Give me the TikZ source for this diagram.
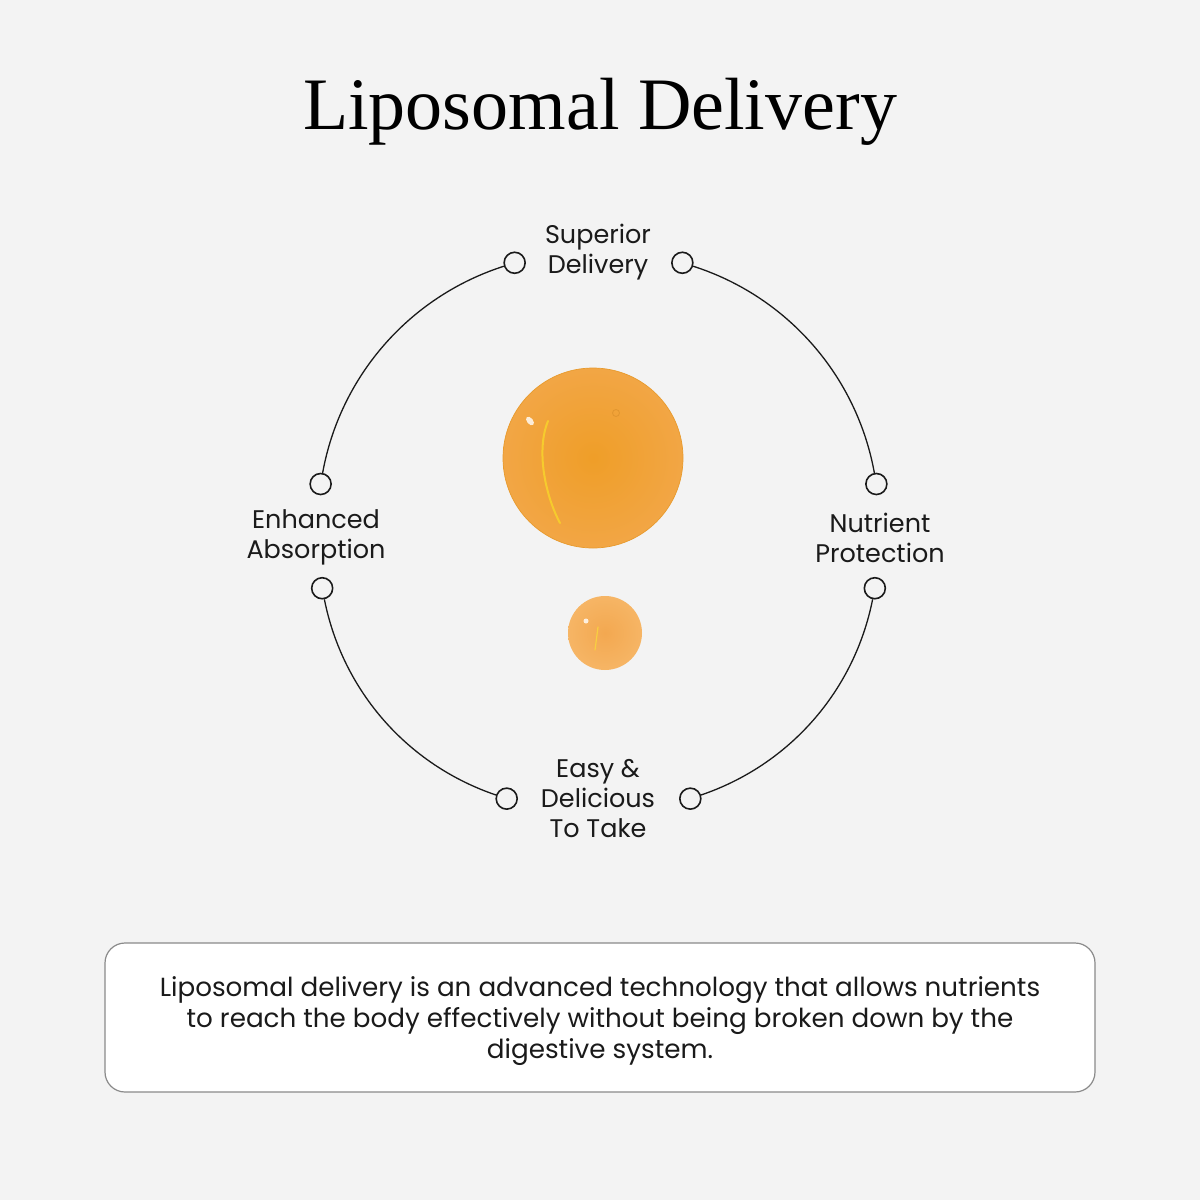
\documentclass[tikz,border=0pt]{standalone}
\usepackage{fontspec}
\setmainfont{Poppins}
\newfontfamily\titlefont{Liberation Serif}
\begin{document}
\begin{tikzpicture}[x=1pt,y=-1pt]
\definecolor{bg}{HTML}{F3F3F3}
\definecolor{ink}{HTML}{1A1A1A}
\definecolor{orangeA}{HTML}{EF9E28}
\definecolor{orangeB}{HTML}{F2A645}
\definecolor{orangeC}{HTML}{F6B565}
\definecolor{orangeD}{HTML}{F3A850}
\definecolor{boxline}{HTML}{8A8A8A}
\tikzset{
  dot/.style={circle,draw=ink,line width=1.6pt,fill=bg,minimum size=21pt,inner sep=0pt},
  arcline/.style={draw=ink,line width=1.3pt},
  lbl/.style={font=\fontsize{25.5}{30}\selectfont,align=center,text=ink},
  body/.style={font=\fontsize{26.2}{31}\selectfont,align=center,text=ink}
}
\useasboundingbox (0,0) rectangle (1200,1200);
\fill[bg] (0,0) rectangle (1200,1200);
% title
\node[text=black,font=\titlefont\fontsize{74}{80}\selectfont] (title) at (600,112) {Liposomal Delivery};
% ring points
\def\cx{598.5}\def\cy{532}\def\rr{282}
\node[dot] (tl) at ({\cx+\rr*cos(107.3)},{\cy-\rr*sin(107.3)}) {};
\node[dot] (tr) at ({\cx+\rr*cos(72.7)},{\cy-\rr*sin(72.7)}) {};
\node[dot] (lu) at ({\cx+\rr*cos(170.2)},{\cy-\rr*sin(170.2)}) {};
\node[dot] (ru) at ({\cx+\rr*cos(9.8)},{\cy-\rr*sin(9.8)}) {};
\node[dot] (ld) at ({\cx+\rr*cos(191.5)},{\cy-\rr*sin(191.5)}) {};
\node[dot] (rd) at ({\cx+\rr*cos(348.5)},{\cy-\rr*sin(348.5)}) {};
\node[dot] (bl) at ({\cx+\rr*cos(251)},{\cy-\rr*sin(251)}) {};
\node[dot] (br) at ({\cx+\rr*cos(289)},{\cy-\rr*sin(289)}) {};
\draw[arcline] (tl) to[bend right=31,looseness=0.92] (lu);
\draw[arcline] (tr) to[bend left=31,looseness=0.92] (ru);
\draw[arcline] (ld) to[bend right=30,looseness=0.92] (bl);
\draw[arcline] (rd) to[bend left=30,looseness=0.92] (br);
% labels
\node[lbl] (sup) at (598,252) {Superior\\Delivery};
\node[lbl] (enh) at (316,537) {Enhanced\\Absorption};
\node[lbl] (nut) at (880,538) {Nutrient\\Protection};
\node[lbl] (easy) at (598,799) {Easy \&\\Delicious\\To Take};
% drops
\shade[inner color=orangeA,outer color=orangeB] (593,458) circle (90);
\draw[orangeA!85!brown,line width=0.7pt] (593,458) circle (90);
\draw[yellow!45!orangeB,line width=2pt,line cap=round] (548,421) .. controls (536,450) and (545,495) .. (560,523);
\fill[white,opacity=0.8,rotate around={-50:(530,421)}] (530,421) ellipse (5 and 3);
\draw[orangeA!70!brown,line width=0.8pt] (616,413) circle (3.5);
\shade[inner color=orangeD,outer color=orangeC] (605,633) circle (37);
\fill[white,opacity=0.8] (586,621) circle (2.5);
\draw[yellow!40!orangeC,line width=1.2pt,line cap=round] (598,627) -- (595,650);
% box
\draw[boxline,fill=white,line width=1.2pt,rounded corners=20pt] (105,943) rectangle (1095,1092);
\node[body] (txt) at (600,1021) {Liposomal delivery is an advanced technology that allows nutrients\\to reach the body effectively without being broken down by the\\digestive system.};
\end{tikzpicture}
\end{document}
